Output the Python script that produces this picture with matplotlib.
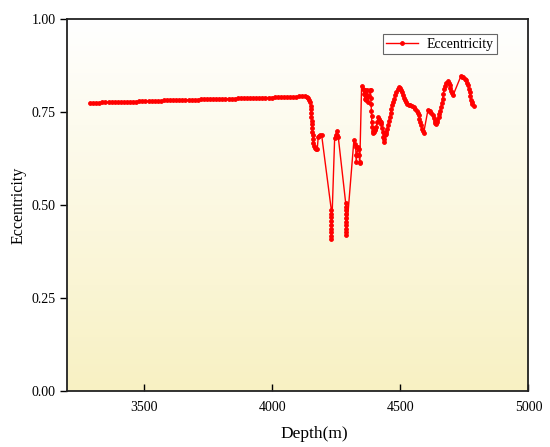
import numpy as np
import matplotlib
matplotlib.use("Agg")
import matplotlib.pyplot as plt
from matplotlib.colors import LinearSegmentedColormap

plt.rcParams['font.family'] = ['Liberation Serif', 'DejaVu Serif']

# depth (m) and eccentricity
depth = [
    3290, 3302, 3314, 3326, 3338, 3350, 3362, 3374, 3386, 3398,
    3410, 3422, 3434, 3446, 3458, 3470, 3482, 3494, 3506, 3518,
    3530, 3542, 3554, 3566, 3578, 3590, 3602, 3614, 3626, 3638,
    3650, 3662, 3674, 3686, 3698, 3710, 3722, 3734, 3746, 3758,
    3770, 3782, 3794, 3806, 3818, 3830, 3842, 3854, 3866, 3878,
    3890, 3902, 3914, 3926, 3938, 3950, 3962, 3974, 3986, 3998,
    4010, 4022, 4034, 4046, 4058, 4070, 4082, 4094, 4106, 4118,
    4130,
    4136, 4141, 4145, 4148, 4150, 4151, 4152, 4153, 4154, 4155,
    4156, 4157, 4158, 4159, 4161, 4164, 4167, 4171, 4176,
    4180, 4184, 4188, 4193,
    4231, 4231, 4231, 4231, 4231, 4231, 4231, 4231, 4231,
    4244, 4248, 4252, 4254, 4258,
    4287, 4287, 4287, 4287, 4288, 4288, 4288, 4288, 4288, 4289,
    4319, 4322, 4326, 4327, 4328, 4331, 4334, 4338, 4340, 4341, 4342,
    4349, 4354, 4358, 4362, 4364, 4368, 4371, 4374, 4377, 4381, 4384,
    4385, 4386, 4387, 4388, 4389, 4390, 4392, 4394, 4397, 4400,
    4403, 4406, 4410, 4413, 4417, 4420, 4423, 4426, 4429, 4432,
    4434, 4435, 4437, 4439, 4443, 4446, 4449, 4452, 4455, 4459,
    4462, 4465, 4468, 4472, 4476, 4481, 4485, 4490, 4496, 4500,
    4504, 4507, 4510, 4514, 4517, 4521, 4526, 4532, 4539, 4545,
    4552, 4558, 4565, 4568, 4571, 4574, 4578, 4581, 4584, 4587, 4591,
    4608, 4612, 4617, 4621, 4626, 4630, 4634, 4637, 4639, 4642,
    4645, 4649, 4652, 4655, 4658, 4662, 4665, 4668, 4671, 4675,
    4678, 4685, 4688, 4692, 4695, 4698, 4702, 4707,
    4736, 4741, 4746, 4751, 4755, 4759, 4763, 4767, 4770, 4772,
    4775, 4778, 4781, 4786,
]
eccentricity = [
    0.776, 0.776, 0.776, 0.776, 0.777, 0.777, 0.777, 0.777, 0.778, 0.778,
    0.778, 0.778, 0.779, 0.779, 0.779, 0.779, 0.780, 0.780, 0.780, 0.780,
    0.781, 0.781, 0.781, 0.781, 0.782, 0.782, 0.782, 0.782, 0.783, 0.783,
    0.783, 0.783, 0.784, 0.784, 0.784, 0.784, 0.785, 0.785, 0.785, 0.785,
    0.786, 0.786, 0.786, 0.786, 0.787, 0.787, 0.787, 0.787, 0.788, 0.788,
    0.788, 0.788, 0.789, 0.789, 0.789, 0.789, 0.790, 0.790, 0.790, 0.790,
    0.791, 0.791, 0.791, 0.791, 0.792, 0.792, 0.792, 0.792, 0.793, 0.793,
    0.793,
    0.792, 0.789, 0.784, 0.777, 0.768, 0.758, 0.748, 0.738, 0.728, 0.718,
    0.708, 0.698, 0.688, 0.678, 0.668, 0.660, 0.655, 0.652, 0.651,
    0.684, 0.687, 0.689, 0.690,
    0.487, 0.477, 0.467, 0.457, 0.447, 0.437, 0.427, 0.418, 0.410,
    0.682, 0.688, 0.699, 0.690, 0.684,
    0.506, 0.496, 0.486, 0.476, 0.466, 0.456, 0.446, 0.436, 0.427, 0.419,
    0.675, 0.666, 0.657, 0.636, 0.616, 0.636, 0.657, 0.652, 0.634, 0.616, 0.614,
    0.820, 0.813, 0.800, 0.787, 0.809, 0.782, 0.810, 0.778, 0.795, 0.810, 0.809,
    0.790, 0.772, 0.755, 0.740, 0.725, 0.710, 0.700, 0.694, 0.698, 0.702,
    0.706, 0.710, 0.724, 0.737, 0.732, 0.728, 0.723, 0.719, 0.708, 0.697,
    0.683, 0.670, 0.679, 0.688, 0.693, 0.697, 0.706, 0.715, 0.726, 0.737,
    0.748, 0.760, 0.769, 0.778, 0.787, 0.796, 0.804, 0.813, 0.818, 0.815,
    0.811, 0.804, 0.796, 0.789, 0.782, 0.777, 0.773, 0.771, 0.769, 0.767,
    0.764, 0.760, 0.755, 0.749, 0.742, 0.733, 0.724, 0.715, 0.706, 0.700, 0.694,
    0.757, 0.755, 0.753, 0.748, 0.742, 0.735, 0.728, 0.722, 0.719, 0.724,
    0.730, 0.738, 0.746, 0.755, 0.764, 0.775, 0.787, 0.800, 0.813, 0.822,
    0.829, 0.834, 0.829, 0.823, 0.815, 0.807, 0.802, 0.798,
    0.847, 0.846, 0.845, 0.841, 0.836, 0.830, 0.823, 0.814, 0.805, 0.795,
    0.784, 0.778, 0.773, 0.766,
]

x_ticks = [3500, 4000, 4500, 5000]
y_ticks = [0.00, 0.25, 0.50, 0.75, 1.00]

fig = plt.figure(figsize=(5.5, 4.47), dpi=100)
ax = fig.add_axes([0.1218, 0.1253, 0.8391, 0.8311])

# white (top) to pale yellow (bottom) background
grad_cmap = LinearSegmentedColormap.from_list(
    'bg', ['#FFFFFF', '#F8F1C3'])
ax.imshow(np.linspace(0, 1, 256).reshape(-1, 1), cmap=grad_cmap,
          aspect='auto', extent=[0, 1, 0, 1], transform=ax.transAxes,
          zorder=0)

ax.plot(depth, eccentricity, color='red', linewidth=1.0, marker='o',
        markersize=2.8, markeredgewidth=0.6, label='Eccentricity', zorder=3)

ax.set_xlim(3200, 5000)
ax.set_ylim(0, 1)
ax.set_xticks(x_ticks)
ax.set_yticks(y_ticks)
ax.set_yticklabels([f'{v:.2f}' for v in y_ticks])
ax.tick_params(axis='x', direction='in', length=5, width=1, labelsize=10,
               pad=7, top=False)
ax.tick_params(axis='y', direction='out', length=5, width=1, labelsize=10,
               pad=3, right=False)
for sp in ax.spines.values():
    sp.set_linewidth(1.3)
    sp.set_color('#222222')

ax.set_xlabel('Depth(m)', fontsize=12.5)
ax.xaxis.set_label_coords(0.535, -0.095)
ax.set_ylabel('Eccentricity', fontsize=11.5)
ax.yaxis.set_label_coords(-0.087, 0.5)

leg = ax.legend(loc='upper right', bbox_to_anchor=(0.932, 0.96),
                borderaxespad=0, fontsize=10, frameon=True,
                fancybox=False, framealpha=1, edgecolor='#666666',
                handlelength=2.3, borderpad=0.25, handletextpad=0.6)
leg.get_frame().set_linewidth(0.8)

fig.savefig('out.png', dpi=100)
plt.close(fig)
